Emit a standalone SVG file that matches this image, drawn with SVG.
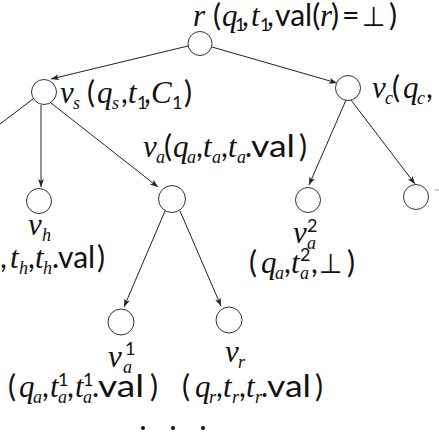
<svg xmlns="http://www.w3.org/2000/svg" width="439" height="439" viewBox="0 0 439 439">
<defs>
<marker id="ah" markerUnits="userSpaceOnUse" markerWidth="10" markerHeight="8" refX="8" refY="3" orient="auto">
<path d="M0,0 L8,3 L0,6 L2,3 z" fill="#222"/>
</marker>
<style>
.n{fill:#fff;stroke:#333;stroke-width:1}
.e{stroke:#222;stroke-width:1;fill:none}
.ea{stroke:#222;stroke-width:1;fill:none;marker-end:url(#ah)}
text{fill:#111;font-size:30px;font-family:"Lato","Noto Sans",sans-serif}
.i{font-family:"Liberation Serif",serif;font-style:italic;font-size:31px}
.s{font-size:18px}
.p{font-family:"DejaVu Sans",sans-serif;font-size:27px}
.d{fill:#111}
</style>
</defs>
<rect width="439" height="439" fill="#fff"/>
<g id="connectors">
<line class="ea" x1="188" y1="46" x2="51" y2="79"/>
<line class="ea" x1="212" y1="47" x2="337" y2="83"/>
<line class="ea" x1="41" y1="105" x2="41" y2="187"/>
<line class="ea" x1="51" y1="103" x2="158" y2="187"/>
<line class="ea" x1="165" y1="211" x2="124" y2="307"/>
<line class="ea" x1="180" y1="211" x2="221" y2="306"/>
<line class="ea" x1="346" y1="100" x2="309" y2="185"/>
<line class="ea" x1="351" y1="100" x2="415" y2="184"/>
<line class="e" x1="33" y1="99" x2="0" y2="124"/>
<line x1="435" y1="190" x2="439" y2="190" stroke="#999" stroke-width="1"/>
</g>
<g id="root">
<circle class="n" cx="200" cy="43.5" r="12"/>
<text><tspan class="i" x="193" y="26">r</tspan><tspan x="213" y="26">(</tspan><tspan class="i" x="222" y="26">q</tspan><tspan class="s" x="235" y="31">1</tspan><tspan x="242" y="26">,</tspan><tspan class="i" x="251" y="26">t</tspan><tspan class="s" x="260" y="31">1</tspan><tspan x="267" y="26">,</tspan><tspan x="275" y="26">val(</tspan><tspan class="i" x="320" y="26">r</tspan><tspan x="331" y="26">)</tspan><tspan x="342" y="26">=</tspan><tspan class="p" x="362" y="26">⊥</tspan><tspan x="389" y="26">)</tspan></text>
</g>
<g id="vs">
<circle class="n" cx="44" cy="92" r="12.5"/>
<text><tspan class="i" x="60" y="103">v</tspan><tspan class="i s" x="73" y="109">s</tspan><tspan x="87" y="103">(</tspan><tspan class="i" x="97" y="103">q</tspan><tspan class="i s" x="112" y="109">s</tspan><tspan x="121" y="103">,</tspan><tspan class="i" x="128" y="103">t</tspan><tspan class="s" x="137" y="109">1</tspan><tspan x="144" y="103">,</tspan><tspan class="i" x="151" y="103">C</tspan><tspan class="s" x="172" y="109">1</tspan><tspan x="184" y="103">)</tspan></text>
</g>
<g id="vc">
<circle class="n" cx="348" cy="88" r="12.5"/>
<text><tspan class="i" x="372" y="98">v</tspan><tspan class="i s" x="385" y="104">c</tspan><tspan x="392" y="98">(</tspan><tspan class="i" x="403" y="98">q</tspan><tspan class="i s" x="417" y="104">c</tspan><tspan x="426" y="98">,</tspan></text>
</g>
<g id="vh">
<circle class="n" cx="39" cy="201" r="12.5"/>
<text><tspan class="i" x="28" y="235">v</tspan><tspan class="i s" x="42" y="241">h</tspan></text>
<text><tspan x="0" y="268">,</tspan><tspan class="i" x="10" y="268">t</tspan><tspan class="i s" x="19" y="274">h</tspan><tspan x="28" y="268">,</tspan><tspan class="i" x="35" y="268">t</tspan><tspan class="i s" x="43" y="274">h</tspan><tspan x="52" y="268">.</tspan><tspan x="58" y="268">val</tspan><tspan x="97" y="268">)</tspan></text>
</g>
<g id="va">
<circle class="n" cx="172" cy="199" r="13.5"/>
<text><tspan class="i" x="143" y="157">v</tspan><tspan class="i s" x="156" y="163">a</tspan><tspan x="164" y="157">(</tspan><tspan class="i" x="173" y="157">q</tspan><tspan class="i s" x="187" y="163">a</tspan><tspan x="196" y="157">,</tspan><tspan class="i" x="203" y="157">t</tspan><tspan class="i s" x="212" y="163">a</tspan><tspan x="221" y="157">,</tspan><tspan class="i" x="228" y="157">t</tspan><tspan class="i s" x="237" y="163">a</tspan><tspan x="245" y="157">.</tspan><tspan x="251" y="157" textLength="44" lengthAdjust="spacingAndGlyphs">val</tspan><tspan x="299" y="157">)</tspan></text>
</g>
<g id="va2">
<circle class="n" cx="308" cy="200" r="12.5"/>
<text><tspan class="i" x="293" y="243">v</tspan><tspan class="s" x="307" y="232">2</tspan><tspan class="i s" x="307" y="249">a</tspan></text>
<text><tspan x="249" y="273">(</tspan><tspan class="i" x="261" y="273">q</tspan><tspan class="i s" x="275" y="279">a</tspan><tspan x="284" y="273">,</tspan><tspan class="i" x="291" y="273">t</tspan><tspan class="s" x="300" y="261">2</tspan><tspan class="i s" x="300" y="279">a</tspan><tspan x="311" y="273">,</tspan><tspan class="p" x="319" y="273">⊥</tspan><tspan x="347" y="273">)</tspan></text>
</g>
<g id="vright">
<circle class="n" cx="416" cy="197" r="12.5"/>
</g>
<g id="va1">
<circle class="n" cx="121" cy="322" r="13"/>
<text><tspan class="i" x="108" y="367">v</tspan><tspan class="s" x="125" y="355">1</tspan><tspan class="i s" x="123" y="373">a</tspan></text>
<text><tspan x="8" y="397">(</tspan><tspan class="i" x="19" y="397">q</tspan><tspan class="i s" x="33" y="403">a</tspan><tspan x="42" y="397">,</tspan><tspan class="i" x="50" y="397">t</tspan><tspan class="s" x="58" y="386">1</tspan><tspan class="i s" x="58" y="403">a</tspan><tspan x="67" y="397">,</tspan><tspan class="i" x="75" y="397">t</tspan><tspan class="s" x="83" y="386">1</tspan><tspan class="i s" x="83" y="403">a</tspan><tspan x="92" y="397">.</tspan><tspan x="98" y="397" textLength="46" lengthAdjust="spacingAndGlyphs">val</tspan><tspan x="150" y="397">)</tspan></text>
</g>
<g id="vr">
<circle class="n" cx="229" cy="320" r="13"/>
<text><tspan class="i" x="225" y="362">v</tspan><tspan class="i s" x="238" y="368">r</tspan></text>
<text><tspan x="182" y="397">(</tspan><tspan class="i" x="195" y="397">q</tspan><tspan class="i s" x="209" y="403">r</tspan><tspan x="216" y="397">,</tspan><tspan class="i" x="223" y="397">t</tspan><tspan class="i s" x="232" y="403">r</tspan><tspan x="239" y="397">,</tspan><tspan class="i" x="246" y="397">t</tspan><tspan class="i s" x="255" y="403">r</tspan><tspan x="261" y="397">.</tspan><tspan x="267" y="397" textLength="44" lengthAdjust="spacingAndGlyphs">val</tspan><tspan x="315" y="397">)</tspan></text>
</g>
<g id="dots">
<circle class="d" cx="143" cy="428" r="2"/>
<circle class="d" cx="173" cy="428" r="2"/>
<circle class="d" cx="203" cy="428" r="2"/>
</g>
</svg>
